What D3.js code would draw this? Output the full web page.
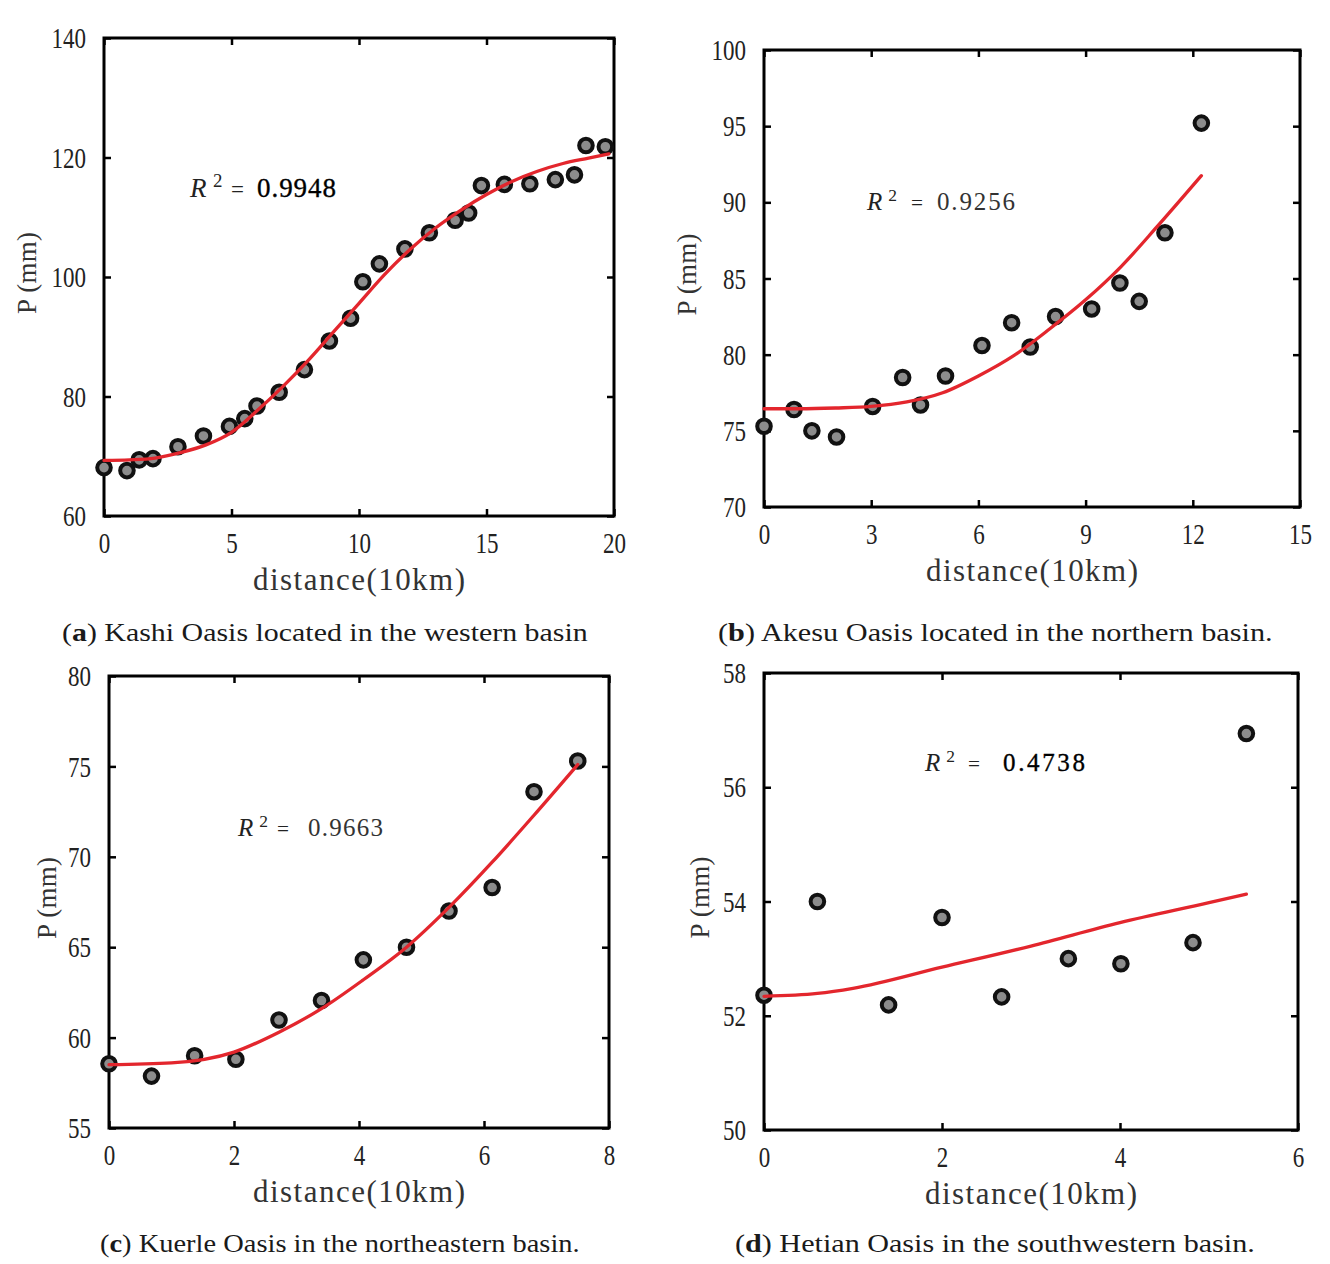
<!DOCTYPE html>
<html><head><meta charset="utf-8">
<script src="https://cdn.jsdelivr.net/npm/d3@7"></script>
<style>body{margin:0;background:#fff} svg{display:block;background:#fff}</style>
</head><body>
<svg id="chart" width="1330" height="1264"></svg>
<script>
// ---------- DATA ----------
// (a) Kashi Oasis
const kashiDist = [0,0.9,1.38,1.92,2.9,3.9,4.92,5.52,6.0,6.87,7.86,8.84,9.67,10.15,10.8,11.8,12.76,13.77,14.3,14.8,15.7,16.7,17.7,18.45,18.9,19.66];
const kashiP    = [68.1,67.6,69.4,69.6,71.6,73.4,75.0,76.3,78.4,80.7,84.5,89.3,93.1,99.2,102.2,104.7,107.4,109.5,110.7,115.3,115.5,115.6,116.3,117.1,122.0,121.8];
const kashiFitDist = [0,1,2,3,4,5,6,7,8,9,10,11,12,13,14,15,16,17,18,19,19.8];
const kashiFitP    = [69.3,69.4,69.7,70.6,71.9,74.0,77.6,81.6,86.0,90.8,95.6,100.4,104.6,108.2,111.2,113.8,116.0,117.7,119.0,119.9,120.6];
const kashiXTicks = [0,5,10,15,20];
const kashiYTicks = [60,80,100,120,140];
const kashiR2 = "0.9948";

// (b) Akesu Oasis
const akesuDist = [0,0.84,1.34,2.03,3.04,3.88,4.38,5.08,6.1,6.93,7.45,8.16,9.17,9.96,10.5,11.22,12.24];
const akesuP    = [75.3,76.4,75.0,74.6,76.6,78.5,76.7,78.6,80.6,82.1,80.5,82.5,83.0,84.7,83.5,88.0,95.2];
const akesuFitDist = [0,1,2,3,4,5,6,7,8,9,10,11,12.24];
const akesuFitP    = [76.45,76.45,76.5,76.6,76.9,77.5,78.6,79.95,81.7,83.6,85.8,88.4,91.75];
const akesuXTicks = [0,3,6,9,12,15];
const akesuYTicks = [70,75,80,85,90,95,100];
const akesuR2 = "0.9256";

// (c) Kuerle Oasis
const kuerleDist = [0,0.68,1.37,2.03,2.72,3.4,4.07,4.76,5.44,6.13,6.8,7.5];
const kuerleP    = [58.55,57.87,59.0,58.8,60.97,62.05,64.3,65.0,67.0,68.3,73.6,75.3];
const kuerleFitDist = [0,1,2,2.72,3.4,4.07,4.76,5.44,6.13,6.8,7.5];
const kuerleFitP    = [58.5,58.6,59.2,60.3,61.6,63.2,65.0,67.2,69.7,72.3,75.1];
const kuerleXTicks = [0,2,4,6,8];
const kuerleYTicks = [55,60,65,70,75,80];
const kuerleR2 = "0.9663";

// (d) Hetian Oasis
const hetianDist = [0,0.6,1.4,2.0,2.67,3.42,4.01,4.82,5.42];
const hetianP    = [52.36,54.0,52.19,53.72,52.33,53.0,52.91,53.28,56.94];
const hetianFitDist = [0,0.6,1,2,3,4,5,5.42];
const hetianFitP    = [52.34,52.39,52.48,52.85,53.22,53.63,53.98,54.13];
const hetianXTicks = [0,2,4,6];
const hetianYTicks = [50,52,54,56,58];
const hetianR2 = "0.4738";

const xTitle = "distance(10km)";
const yTitle = "P (mm)";
const captions = [
  ["a", " Kashi Oasis located in the western basin"],
  ["b", " Akesu Oasis located in the northern basin."],
  ["c", " Kuerle Oasis in the northeastern basin."],
  ["d", " Hetian Oasis in the southwestern basin."]
];

// ---------- LAYOUT / STYLE ----------
const panels = [
  {xs:kashiDist, ys:kashiP, fx:kashiFitDist, fy:kashiFitP, xt:kashiXTicks, yt:kashiYTicks,
   box:[104,614,38,516], r2:kashiR2, r2l:{x:190,y:197,eq:41,num:67,w:79,fs:27,bold:true},
   yOff:74, cap:captions[0], capX:62, capW:526, capY:641},
  {xs:akesuDist, ys:akesuP, fx:akesuFitDist, fy:akesuFitP, xt:akesuXTicks, yt:akesuYTicks,
   box:[764,1300,50,507], r2:akesuR2, r2l:{x:867,y:210,eq:44,num:70,w:78,fs:25,bold:false},
   yOff:74, cap:captions[1], capX:718, capW:555, capY:641},
  {xs:kuerleDist, ys:kuerleP, fx:kuerleFitDist, fy:kuerleFitP, xt:kuerleXTicks, yt:kuerleYTicks,
   box:[109,609,676,1128], r2:kuerleR2, r2l:{x:238,y:836,eq:39,num:70,w:75,fs:25,bold:false},
   yOff:59, cap:captions[2], capX:100, capW:480, capY:1252},
  {xs:hetianDist, ys:hetianP, fx:hetianFitDist, fy:hetianFitP, xt:hetianXTicks, yt:hetianYTicks,
   box:[764,1298,673,1130], r2:hetianR2, r2l:{x:925,y:771,eq:43,num:78,w:82,fs:25,bold:true},
   yOff:61, cap:captions[3], capX:735, capW:520, capY:1252}
];

const svg = d3.select("#chart");
const serif = "'Liberation Serif','Times New Roman',serif";
const TICK = 7;
const fmt = d => String(d);

panels.forEach(p => {
  const [x0,x1,y0,y1] = p.box;
  const x = d3.scaleLinear().domain(d3.extent(p.xt)).range([x0,x1]);
  const y = d3.scaleLinear().domain(d3.extent(p.yt)).range([y1,y0]);
  const g = svg.append("g");

  // axes (ticks inward on all four sides)
  const styleAxis = (sel, labels) => {
    sel.select(".domain").remove();
    sel.selectAll(".tick line").attr("stroke","#000").attr("stroke-width",2.5);
    sel.selectAll(".tick text")
      .attr("font-family", serif).attr("font-size", 30).attr("fill","#222")
      .attr("textLength", d => fmt(d).length*11.5).attr("lengthAdjust","spacingAndGlyphs");
    if(!labels) sel.selectAll(".tick text").remove();
  };
  g.append("g").attr("transform",`translate(0,${y1})`)
    .call(d3.axisBottom(x).tickValues(p.xt).tickFormat(fmt).tickSizeInner(-TICK).tickSizeOuter(0).tickPadding(16))
    .call(s=>styleAxis(s,true));
  g.append("g").attr("transform",`translate(0,${y0})`)
    .call(d3.axisTop(x).tickValues(p.xt).tickFormat(fmt).tickSizeInner(-TICK).tickSizeOuter(0))
    .call(s=>styleAxis(s,false));
  g.append("g").attr("transform",`translate(${x0},0)`)
    .call(d3.axisLeft(y).tickValues(p.yt).tickFormat(fmt).tickSizeInner(-TICK).tickSizeOuter(0).tickPadding(18))
    .call(s=>styleAxis(s,true));
  g.append("g").attr("transform",`translate(${x1},0)`)
    .call(d3.axisRight(y).tickValues(p.yt).tickFormat(fmt).tickSizeInner(-TICK).tickSizeOuter(0))
    .call(s=>styleAxis(s,false));

  // frame
  g.append("rect").attr("x",x0).attr("y",y0).attr("width",x1-x0).attr("height",y1-y0)
    .attr("fill","none").attr("stroke","#000").attr("stroke-width",3);

  // points
  g.append("g").selectAll("circle").data(p.xs.map((d,i)=>[d,p.ys[i]])).join("circle")
    .attr("cx",d=>x(d[0])).attr("cy",d=>y(d[1])).attr("r",6.8)
    .attr("fill","#8c8c8c").attr("stroke","#111").attr("stroke-width",4);

  // fitted line
  const line = d3.line().x(d=>x(d[0])).y(d=>y(d[1])).curve(d3.curveMonotoneX);
  g.append("path").datum(p.fx.map((d,i)=>[d,p.fy[i]]))
    .attr("d",line).attr("fill","none").attr("stroke","#e3262d").attr("stroke-width",3.3)
    .attr("stroke-linecap","round");

  // axis titles
  g.append("text").attr("x",(x0+x1)/2).attr("y",y1+67).attr("text-anchor","middle")
    .attr("dominant-baseline","middle")
    .attr("font-family",serif).attr("font-size",31).attr("fill","#333")
    .attr("textLength",212).attr("lengthAdjust","spacing")
    .text(xTitle);
  g.append("text").attr("transform",`translate(${x0-p.yOff},${(y0+y1)/2-4}) rotate(-90)`)
    .attr("text-anchor","middle").attr("dominant-baseline","middle")
    .attr("font-family",serif).attr("font-size",27).attr("fill","#333")
    .attr("textLength",82).attr("lengthAdjust","spacing")
    .text(yTitle);

  // R^2 label
  const r = p.r2l;
  g.append("text").attr("x",r.x).attr("y",r.y).attr("font-family",serif)
    .attr("font-style","italic").attr("font-size",r.fs).attr("fill","#222").text("R");
  g.append("text").attr("x",r.x+r.fs*0.85).attr("y",r.y-r.fs*0.38).attr("font-family",serif)
    .attr("font-size",r.fs*0.7).attr("fill","#222").text("2");
  g.append("text").attr("x",r.x+r.eq).attr("y",r.y).attr("font-family",serif)
    .attr("font-size",r.fs*0.85).attr("fill","#222").text("=");
  g.append("text").attr("x",r.x+r.num).attr("y",r.y).attr("font-family",serif)
    .attr("font-size",r.fs).attr("fill", r.bold ? "#000" : "#333")
    .attr("stroke", r.bold ? "#000" : "none").attr("stroke-width", r.bold ? 0.35 : 0)
    .attr("textLength",r.w).attr("lengthAdjust","spacing").text(p.r2);

  // caption
  const cap = g.append("text").attr("x",p.capX).attr("y",p.capY)
    .attr("font-family",serif).attr("font-size",26).attr("fill","#1a1a1a");
  cap.append("tspan").text("(");
  cap.append("tspan").attr("font-weight","bold").text(p.cap[0]);
  cap.append("tspan").text(")" + p.cap[1]);
  const w = cap.node().getComputedTextLength();
  cap.attr("transform",`translate(${p.capX},0) scale(${p.capW/w},1) translate(${-p.capX},0)`);
});
</script>
</body></html>
